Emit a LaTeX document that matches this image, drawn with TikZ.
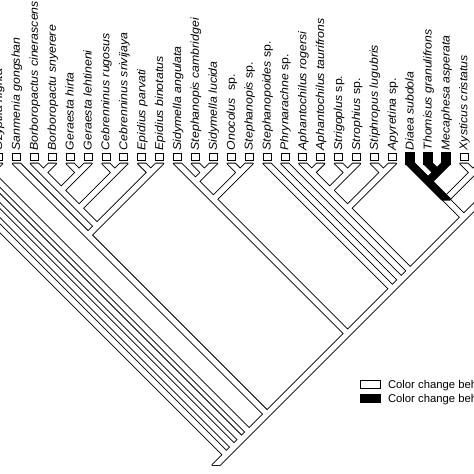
\documentclass[tikz,border=0pt]{standalone}
\usepackage{fontspec}
\setmainfont{Liberation Sans}
\usepackage{graphicx}
\newcommand\gp{17.896}
\newcommand\yz{163.5}
\newcommand\hw{3.75}
\newcommand\ndx[2]{(-1.4+\gp*((#1)+(#2))/2)}
\newcommand\ndy[2]{(\yz+\gp*((#2)-(#1))/2)}
\newcommand\bandxy[4]{({#1-\hw},{#2}) -- ({#1+\hw},{#2}) -- ({#3+\hw},{#4}) -- ({#3-\hw},{#4}) -- cycle }
\newcommand\band[4]{\bandxy{\ndx{#1}{#2}}{\ndy{#1}{#2}}{\ndx{#3}{#4}}{\ndy{#3}{#4}}}
\newcommand\whitebands{%
 \band{0}{0}{-1}{0} \band{-1}{0}{-1}{29}
 \band{-1.85}{-1.35}{-1.85}{29} \band{-2.7}{-2.2}{-2.7}{29} \band{-3.55}{-3.05}{-3.55}{29}
 \band{1}{29}{-1}{29} \band{-1}{29}{-1.85}{29} \band{-1.85}{29}{-2.7}{29} \band{-2.7}{29}{-3.55}{29}
 \bandxy{\ndx{-3.55}{29}}{\ndy{-3.55}{29}}{(-1.4+\gp*29+\yz-465)}{465}
 \band{10}{29}{1}{29} \band{15}{29}{10}{29} \band{16}{29}{15}{29} \band{17}{29}{16}{29}
 \band{23}{29}{17}{29} \band{17}{22}{17}{29}
 \band{1}{9}{1}{29} \band{1}{1}{1}{9} \band{2}{9}{1}{9} \band{2}{7}{2}{9} \band{8}{9}{2}{9}
 \band{8}{8}{8}{9} \band{9}{9}{8}{9} \band{2}{5}{2}{7} \band{6}{7}{2}{7} \band{6}{6}{6}{7}
 \band{7}{7}{6}{7} \band{2}{3}{2}{5} \band{4}{5}{2}{5} \band{2}{2}{2}{3} \band{3}{3}{2}{3}
 \band{4}{4}{4}{5} \band{5}{5}{4}{5}
 \band{10}{14}{10}{29} \band{10}{12}{10}{14} \band{13}{14}{10}{14} \band{13}{13}{13}{14}
 \band{14}{14}{13}{14} \band{10}{10}{10}{12} \band{11}{12}{10}{12} \band{11}{11}{11}{12}
 \band{12}{12}{11}{12}
 \band{15}{15}{15}{29} \band{16}{16}{16}{29}
 \band{17}{20}{17}{22} \band{21}{22}{17}{22} \band{21}{21}{21}{22} \band{22}{22}{21}{22}
 \band{17}{18}{17}{20} \band{19}{20}{17}{20} \band{17}{17}{17}{18} \band{18}{18}{17}{18}
 \band{19}{19}{19}{20} \band{20}{20}{19}{20}
 \band{23}{27}{23}{29} \band{28}{29}{23}{29} \band{28}{28}{28}{29} \band{29}{29}{28}{29}
 \band{26}{27}{23}{27} \band{26}{26}{26}{27} \band{27}{27}{26}{27} }
\newcommand\blackbands{%
 \band{23}{25}{23}{27} \band{23}{23}{23}{25} \band{24}{25}{23}{25}
 \band{24}{24}{24}{25} \band{25}{25}{24}{25} }
\newcommand\tiplab[2]{\node[tiplabel] (t#1) at ({-1.4+\gp*(#1)+3.5},150.5) {\scalebox{1.08}[1]{#2}};}
\begin{document}
\begin{tikzpicture}[x=1pt,y=-1pt,
  tiplabel/.style={rotate=90,anchor=base west,inner sep=0pt,font=\fontsize{11.4}{13}\selectfont\itshape},
  legendtext/.style={anchor=base west,inner sep=0pt,font=\fontsize{11.3}{13}\selectfont},
  openbox/.style={draw=black,fill=white,line width=0.8pt},
  bandline/.style={line width=1.8pt,line join=round}]
\useasboundingbox (0,0) rectangle (474,474);
\fill[white] (0,0) rectangle (474,474);
\begin{scope}
\clip (0,0) rectangle (474,474);
\filldraw[black,bandline] \whitebands \blackbands;
\fill[white] \whitebands \blackbands;
\filldraw[black,line width=2.6pt,line join=round] \blackbands;
\foreach \i in {0,...,22} { \draw[openbox] ({-1.4+\gp*\i-4},153) rectangle ({-1.4+\gp*\i+4},160); }
\draw[openbox] ({-1.4+\gp*26-4},153) rectangle ({-1.4+\gp*26+4},160);
\foreach \i in {23,24,25} { \fill[black] ({-1.4+\gp*\i-4.8},152) rectangle ({-1.4+\gp*\i+4.8},164.5); }
\tiplab{0}{Ozyptila nigrita}
\tiplab{1}{Sanmenia gongshan}
\tiplab{2}{Borboropactus cinerascens}
\tiplab{3}{Borboropactu snyerere}
\tiplab{4}{Geraesta hirta}
\tiplab{5}{Geraesta lehtineni}
\tiplab{6}{Cebrenninus rugosus}
\tiplab{7}{Cebrenninus srivijaya}
\tiplab{8}{Epidius parvati}
\tiplab{9}{Epidius binotatus}
\tiplab{10}{Sidymella angulata}
\tiplab{11}{Stephanopis cambridgei}
\tiplab{12}{Sidymella lucida}
\tiplab{13}{Onocolus\hspace{0.6em}{\upshape sp.}}
\tiplab{14}{Stephanopis {\upshape sp.}}
\tiplab{15}{Stephanopoides {\upshape sp.}}
\tiplab{16}{Phrynarachne {\upshape sp.}}
\tiplab{17}{Aphantochilus rogersi}
\tiplab{18}{Aphantochilus taurifrons}
\tiplab{19}{Strigoplus {\upshape sp.}}
\tiplab{20}{Strophius {\upshape sp.}}
\tiplab{21}{Stiphropus lugubris}
\tiplab{22}{Apyretina {\upshape sp.}}
\tiplab{23}{Diaea subdola}
\tiplab{24}{Thomisus granulifrons}
\tiplab{25}{Mecaphesa asperata}
\tiplab{26}{Xysticus cristatus}
\draw[openbox] (360,380) rectangle (380.5,388.5);
\fill[black] (360,394.3) rectangle (380.5,402.7);
\node[legendtext] (leg1) at (387.8,388.3) {Color change beh};
\node[legendtext] (leg2) at (387.8,402.5) {Color change beh};
\end{scope}
\end{tikzpicture}
\end{document}
